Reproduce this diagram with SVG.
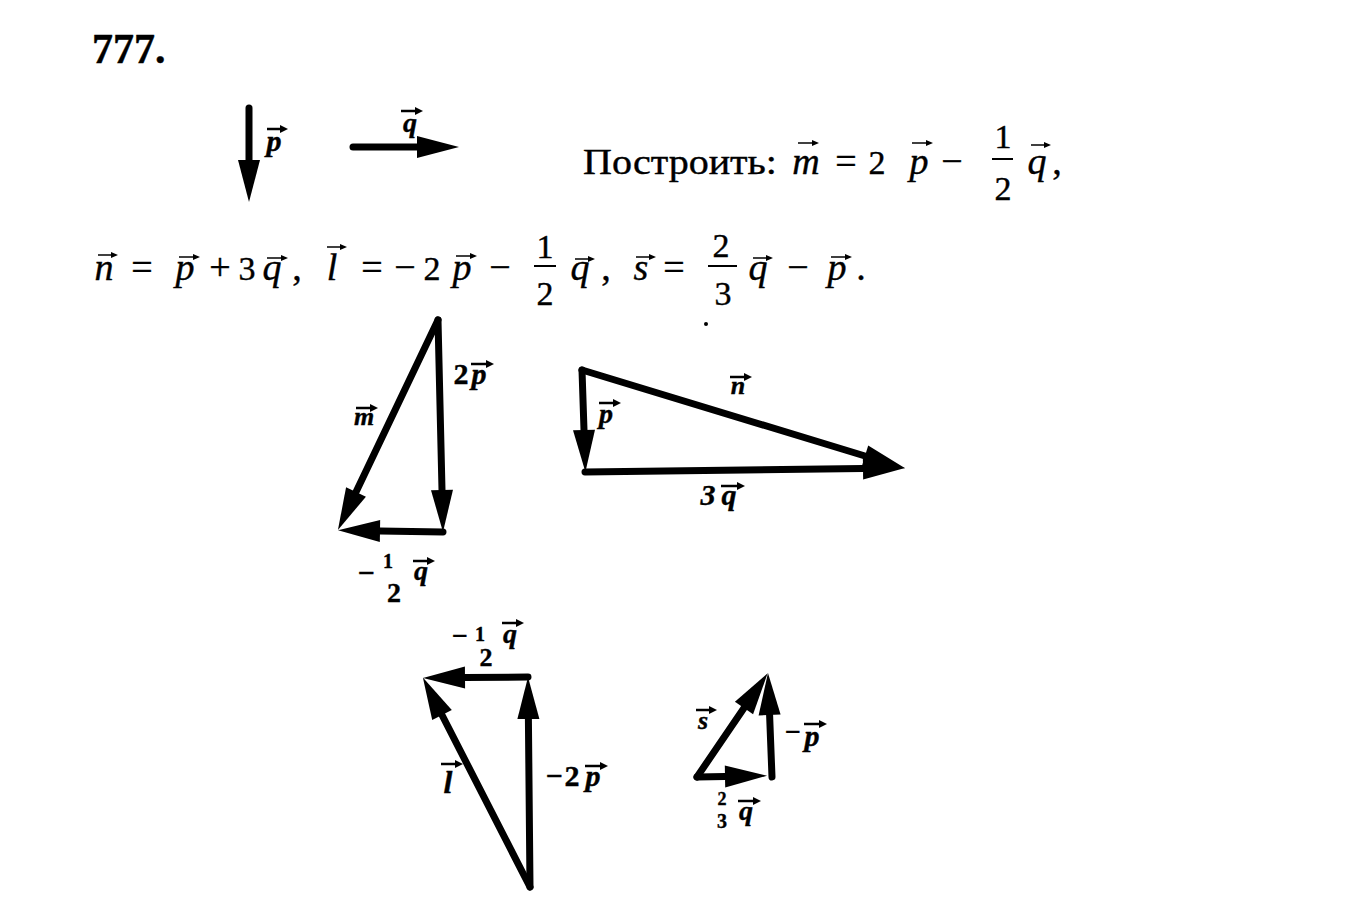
<svg xmlns="http://www.w3.org/2000/svg" width="1363" height="922" viewBox="0 0 1363 922" font-family="'Liberation Serif', 'Times New Roman', serif">
<defs>
<marker id="ah" markerUnits="userSpaceOnUse" markerWidth="44" markerHeight="24" refX="0" refY="11" orient="auto" overflow="visible">
<path d="M0,0 L42,11 L0,22 Z" fill="#000"/>
</marker>
<marker id="va" markerUnits="userSpaceOnUse" markerWidth="8" markerHeight="8" refX="1" refY="3.5" orient="auto" overflow="visible">
<path d="M0,0.5 L7,3.5 L0,6.5 Z" fill="#000"/>
</marker>
<marker id="vb" markerUnits="userSpaceOnUse" markerWidth="9" markerHeight="9" refX="1" refY="4" orient="auto" overflow="visible">
<path d="M0,0 L8,4 L0,8 Z" fill="#000"/>
</marker>
<style>
text{font-family:'Liberation Serif','Times New Roman',serif;fill:#000;stroke:#000;stroke-width:0.4}
.f{font-size:38px;text-anchor:middle}
.fi{font-style:italic}
.num{font-size:34px;text-anchor:middle}
.lb{font-weight:bold;text-anchor:middle}
.lbi{font-style:italic}
.vec{stroke:#000;stroke-width:7;fill:none;stroke-linecap:round;marker-end:url(#ah)}
.va{stroke:#000;stroke-width:1.5;fill:none;marker-end:url(#va)}
.vb{stroke:#000;stroke-width:2.5;fill:none;marker-end:url(#vb)}
.bar{stroke:#000;stroke-width:2}
</style>
</defs>

<g id="title">
<text x="92" y="63" font-size="42" font-weight="bold">777.</text>
</g>

<g id="formula-line1">
<text x="583" y="174" font-size="36" textLength="194" lengthAdjust="spacingAndGlyphs">Построить:</text>
<text class="f fi" x="806" y="174">m</text>
<text class="f" x="846" y="174">=</text>
<text class="num" x="877" y="174">2</text>
<text class="f fi" x="919" y="174">p</text>
<text class="f" x="952" y="174">−</text>
<text class="num" x="1003" y="148">1</text>
<line class="bar" x1="992" y1="159" x2="1013" y2="159"/>
<text class="num" x="1003" y="200">2</text>
<text class="f fi" x="1037" y="174">q</text>
<text class="f" x="1057" y="174">,</text>
<line class="va" x1="798" y1="143" x2="813" y2="143"/>
<line class="va" x1="912" y1="143" x2="927" y2="143"/>
<line class="va" x1="1031" y1="145" x2="1045" y2="145"/>
</g>

<g id="formula-line2">
<text class="f fi" x="104" y="280">n</text>
<text class="f" x="142" y="280">=</text>
<text class="f fi" x="185" y="280">p</text>
<text class="f" x="220" y="280">+</text>
<text class="num" x="247" y="280">3</text>
<text class="f fi" x="272" y="280">q</text>
<text class="f" x="297" y="280">,</text>
<text class="f fi" x="332" y="280">l</text>
<text class="f" x="372" y="280">=</text>
<text class="f" x="405" y="280">−</text>
<text class="num" x="432" y="280">2</text>
<text class="f fi" x="462" y="280">p</text>
<text class="f" x="500" y="280">−</text>
<text class="num" x="545" y="258">1</text>
<line class="bar" x1="534" y1="266" x2="556" y2="266"/>
<text class="num" x="545" y="305">2</text>
<text class="f fi" x="580" y="280">q</text>
<text class="f" x="606" y="280">,</text>
<text class="f fi" x="641" y="280">s</text>
<text class="f" x="674" y="280">=</text>
<text class="num" x="721" y="257">2</text>
<line class="bar" x1="708" y1="266" x2="737" y2="266"/>
<text class="num" x="723" y="305">3</text>
<text class="f fi" x="758" y="280">q</text>
<text class="f" x="798" y="280">−</text>
<text class="f fi" x="837" y="280">p</text>
<text class="f" x="861" y="280">.</text>
<line class="va" x1="98" y1="255" x2="112" y2="255"/>
<line class="va" x1="179" y1="257" x2="194" y2="257"/>
<line class="va" x1="267" y1="258" x2="282" y2="258"/>
<line class="va" x1="327" y1="247" x2="341" y2="247"/>
<line class="va" x1="456" y1="256" x2="471" y2="256"/>
<line class="va" x1="575" y1="259" x2="589" y2="259"/>
<line class="va" x1="636" y1="257" x2="650" y2="257"/>
<line class="va" x1="753" y1="258" x2="767" y2="258"/>
<line class="va" x1="831" y1="257" x2="846" y2="257"/>
</g>

<g id="basis-p">
<line class="vec" x1="249" y1="108" x2="249" y2="160"/>
<text class="lb lbi" x="274" y="151" font-size="30">p</text>
<line class="vb" x1="267" y1="129" x2="281" y2="129"/>
</g>
<g id="basis-q">
<line class="vec" x1="353" y1="147" x2="417" y2="147"/>
<text class="lb lbi" x="410" y="132" font-size="28">q</text>
<line class="vb" x1="401" y1="111" x2="416" y2="111"/>
</g>

<g id="connectors">
<line class="vec" x1="438" y1="320" x2="442" y2="490"/>
<line class="vec" x1="443" y1="532" x2="380" y2="531"/>
<line class="vec" x1="438" y1="320" x2="356" y2="492"/>
<line class="vec" x1="582" y1="370" x2="584" y2="430"/>
<line class="vec" x1="585" y1="472" x2="863" y2="468.5"/>
<line class="vec" x1="582" y1="370" x2="865" y2="456"/>
<line class="vec" x1="530" y1="887" x2="528.4" y2="719"/>
<line class="vec" x1="528" y1="677" x2="465" y2="677.6"/>
<line class="vec" x1="530" y1="887" x2="442" y2="715"/>
<line class="vec" x1="697" y1="777" x2="725" y2="776.5"/>
<line class="vec" x1="772" y1="777" x2="769.6" y2="715"/>
<line class="vec" x1="697" y1="777" x2="744" y2="708"/>
</g>

<g id="label-m">
<text class="lb lbi" x="364" y="425" font-size="26">m</text>
<line class="vb" x1="356" y1="408" x2="371" y2="408"/>
</g>
<g id="label-2p">
<text class="lb" x="461" y="384" font-size="30">2</text>
<text class="lb lbi" x="479" y="384" font-size="30">p</text>
<line class="vb" x1="471" y1="364" x2="487" y2="364"/>
</g>
<g id="label-half-q-1">
<text class="lb" x="366" y="583" font-size="30">−</text>
<text class="lb" x="388" y="568" font-size="20">1</text>
<text class="lb" x="394" y="602" font-size="28">2</text>
<text class="lb lbi" x="421" y="580" font-size="28">q</text>
<line class="vb" x1="413" y1="561" x2="428" y2="561"/>
</g>

<g id="label-n">
<text class="lb lbi" x="738" y="394" font-size="26">n</text>
<line class="vb" x1="730" y1="377" x2="745" y2="377"/>
</g>
<g id="label-p">
<text class="lb lbi" x="606" y="423" font-size="28">p</text>
<line class="vb" x1="599" y1="403" x2="614" y2="403"/>
</g>
<g id="label-3q">
<text class="lb lbi" x="708" y="505" font-size="30">3</text>
<text class="lb lbi" x="729" y="505" font-size="30">q</text>
<line class="vb" x1="721" y1="486" x2="738" y2="486"/>
</g>

<g id="label-half-q-2">
<text class="lb" x="460" y="645" font-size="28">−</text>
<text class="lb" x="480" y="641" font-size="20">1</text>
<text class="lb" x="486" y="666" font-size="26">2</text>
<text class="lb lbi" x="510" y="643" font-size="28">q</text>
<line class="vb" x1="502" y1="623" x2="517" y2="623"/>
</g>
<g id="label-l">
<text class="lb lbi" x="448" y="793" font-size="32">l</text>
<line class="vb" x1="441" y1="764" x2="456" y2="764"/>
</g>
<g id="label-minus2p">
<text class="lb" x="554" y="786" font-size="30">−</text>
<text class="lb" x="572" y="786" font-size="30">2</text>
<text class="lb lbi" x="593" y="786" font-size="30">p</text>
<line class="vb" x1="585" y1="766" x2="601" y2="766"/>
</g>

<g id="label-s">
<text class="lb lbi" x="703" y="729" font-size="26">s</text>
<line class="vb" x1="696" y1="710" x2="710" y2="710"/>
</g>
<g id="label-minusp">
<text class="lb" x="793" y="741" font-size="28">−</text>
<text class="lb lbi" x="812" y="746" font-size="30">p</text>
<line class="vb" x1="804" y1="724" x2="820" y2="724"/>
</g>
<g id="label-two-thirds-q">
<text class="lb" x="722" y="805" font-size="18">2</text>
<text class="lb" x="722" y="828" font-size="20">3</text>
<text class="lb lbi" x="746" y="820" font-size="28">q</text>
<line class="vb" x1="738" y1="801" x2="754" y2="801"/>
</g>

<circle cx="706" cy="324" r="2" fill="#000"/>
</svg>
